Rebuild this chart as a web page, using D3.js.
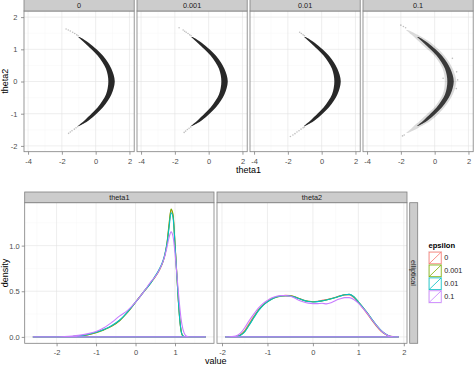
<!DOCTYPE html>
<html>
<head>
<meta charset="utf-8">
<script src="https://cdn.jsdelivr.net/npm/d3@7"></script>
<style>
body { margin: 0; background: #fff; }
svg text { font-family: "Liberation Sans", Arial, sans-serif; }
</style>
</head>
<body>
<svg id="chart" width="474" height="365"></svg>
<script>
// facets / groups
var epsilons = ["0", "0.001", "0.01", "0.1"];
var colours = ["#F8766D", "#7CAE00", "#00BFC4", "#C77CFF"];
var params = ["theta1", "theta2"];

// top row: scatter of theta1 vs theta2, axis limits as read
var topXLim = [-4.24, 2.28];
var topYLim = [-2.18, 2.19];
var topXTicks = [-4, -2, 0, 2];
var topYTicks = [-2, -1, 0, 1, 2];

// dense core of the cloud (theta1 edges at each theta2)
var bandTheta2 = [1.38, 1.3, 1.2, 1.0, 0.8, 0.6, 0.4, 0.2, 0, -0.2, -0.4, -0.6, -0.8, -1.0, -1.2, -1.3, -1.38];
var bandLo = [-1.04, -0.86, -0.645, -0.25, 0.125, 0.40, 0.61, 0.713, 0.75, 0.713, 0.61, 0.40, 0.125, -0.25, -0.645, -0.86, -1.04];
var bandHi = [-0.96, -0.68, -0.395, 0.05, 0.435, 0.72, 0.93, 1.067, 1.13, 1.067, 0.93, 0.72, 0.435, 0.05, -0.395, -0.68, -0.96];
// fuzzy spread of the epsilon = 0.1 run
var haloTheta2 = [1.6, 1.45, 1.3, 1.2, 1.0, 0.8, 0.6, 0.4, 0.2, 0, -0.2, -0.4, -0.6, -0.8, -1.0, -1.2, -1.3, -1.45, -1.6];
var haloLo = [-1.70, -1.36, -1.05, -0.84, -0.43, -0.02, 0.26, 0.47, 0.57, 0.60, 0.57, 0.47, 0.26, -0.02, -0.43, -0.84, -1.05, -1.36, -1.70];
var haloHi = [-1.58, -1.00, -0.49, -0.20, 0.23, 0.58, 0.86, 1.07, 1.21, 1.28, 1.21, 1.07, 0.86, 0.58, 0.23, -0.20, -0.49, -1.00, -1.58];
// sparse ends of each cloud [theta1, theta2]
var tailPoints = [
  [[-1.75, 1.63], [-1.62, 1.60], [-1.50, 1.57], [-1.36, 1.53], [-1.24, 1.49], [-1.12, 1.45], [-1.04, 1.42],
   [-1.60, -1.61], [-1.50, -1.57], [-1.40, -1.53], [-1.26, -1.48], [-1.16, -1.44], [-1.06, -1.40]],
  [[-1.75, 1.67], [-1.51, 1.60], [-1.42, 1.56], [-1.33, 1.53], [-1.22, 1.49], [-1.12, 1.45], [-1.04, 1.42],
   [-1.45, -1.58], [-1.36, -1.54], [-1.26, -1.49], [-1.16, -1.45], [-1.06, -1.41]],
  [[-1.30, 1.53], [-1.20, 1.49], [-1.10, 1.45], [-1.02, 1.42],
   [-1.85, -1.71], [-1.70, -1.66], [-1.58, -1.62], [-1.46, -1.57], [-1.34, -1.53], [-1.22, -1.48], [-1.10, -1.44], [-1.02, -1.41]],
  [[-2.00, 1.75], [-1.85, 1.71], [-1.72, 1.67],
   [-1.90, -1.69], [-1.80, -1.66],
   [1.36, 0.05], [1.30, 0.30], [1.28, -0.22], [0.50, 0.10], [1.05, 0.72]]
];

// bottom row: densities
var theta1Grid = [-2.59, -2.2, -1.8, -1.6, -1.4, -1.2, -1.0, -0.8, -0.6, -0.4, -0.2, 0, 0.2, 0.4, 0.5, 0.6, 0.7, 0.75, 0.8, 0.85, 0.9, 0.95, 1.0, 1.05, 1.1, 1.15, 1.2, 1.25, 1.3, 1.4, 1.77];
var theta1Dens = [
  [0, 0, 0.001, 0.004, 0.011, 0.025, 0.048, 0.08, 0.12, 0.18, 0.27, 0.38, 0.49, 0.6, 0.66, 0.73, 0.83, 0.91, 1.03, 1.22, 1.39, 1.33, 1.02, 0.66, 0.31, 0.08, 0.012, 0.001, 0, 0, 0],
  [0, 0, 0.001, 0.004, 0.010, 0.023, 0.045, 0.077, 0.118, 0.18, 0.27, 0.38, 0.49, 0.6, 0.66, 0.73, 0.83, 0.91, 1.04, 1.24, 1.40, 1.34, 1.02, 0.65, 0.30, 0.075, 0.01, 0.001, 0, 0, 0],
  [0, 0, 0.001, 0.005, 0.012, 0.027, 0.05, 0.082, 0.125, 0.185, 0.275, 0.38, 0.49, 0.6, 0.67, 0.74, 0.84, 0.92, 1.03, 1.2, 1.36, 1.31, 1.01, 0.65, 0.30, 0.08, 0.012, 0.001, 0, 0, 0],
  [0, 0.001, 0.004, 0.009, 0.02, 0.036, 0.06, 0.1, 0.16, 0.23, 0.29, 0.38, 0.49, 0.61, 0.66, 0.73, 0.83, 0.9, 0.99, 1.09, 1.15, 1.1, 0.92, 0.67, 0.42, 0.21, 0.085, 0.027, 0.006, 0, 0]
];
var theta2Grid = [-1.92, -1.8, -1.7, -1.6, -1.5, -1.4, -1.3, -1.2, -1.1, -1.0, -0.9, -0.8, -0.7, -0.6, -0.5, -0.4, -0.3, -0.2, -0.1, 0, 0.1, 0.2, 0.3, 0.4, 0.5, 0.6, 0.7, 0.8, 0.9, 1.0, 1.1, 1.2, 1.3, 1.4, 1.5, 1.6, 1.7, 1.88];
var theta2Dens = [
  [0, 0.001, 0.005, 0.022, 0.07, 0.15, 0.225, 0.295, 0.35, 0.39, 0.42, 0.44, 0.45, 0.455, 0.452, 0.44, 0.42, 0.402, 0.39, 0.385, 0.39, 0.4, 0.41, 0.42, 0.435, 0.45, 0.46, 0.46, 0.43, 0.375, 0.315, 0.25, 0.18, 0.115, 0.06, 0.025, 0.006, 0],
  [0, 0.001, 0.004, 0.018, 0.06, 0.135, 0.215, 0.29, 0.345, 0.385, 0.415, 0.435, 0.445, 0.45, 0.45, 0.44, 0.42, 0.4, 0.39, 0.385, 0.388, 0.395, 0.405, 0.418, 0.432, 0.448, 0.462, 0.468, 0.44, 0.385, 0.325, 0.26, 0.19, 0.125, 0.068, 0.03, 0.008, 0],
  [0, 0.001, 0.003, 0.016, 0.055, 0.13, 0.21, 0.285, 0.343, 0.385, 0.415, 0.437, 0.448, 0.452, 0.448, 0.436, 0.418, 0.4, 0.388, 0.383, 0.386, 0.395, 0.405, 0.418, 0.432, 0.448, 0.462, 0.466, 0.44, 0.385, 0.325, 0.262, 0.192, 0.127, 0.07, 0.031, 0.008, 0],
  [0, 0.003, 0.01, 0.038, 0.1, 0.18, 0.25, 0.315, 0.365, 0.4, 0.428, 0.445, 0.452, 0.452, 0.445, 0.425, 0.4, 0.382, 0.37, 0.365, 0.365, 0.368, 0.362, 0.375, 0.4, 0.418, 0.43, 0.43, 0.41, 0.37, 0.315, 0.255, 0.188, 0.125, 0.068, 0.03, 0.008, 0]
];
var densXTicks = [[-2, -1, 0, 1], [-2, -1, 0, 1, 2]];
var densYTicks = [0, 0.5, 1.0];

var svg = d3.select("#chart"),
    gridMajor = "#E3E3E3",
    gridMinor = "#F7F7F7",
    border = "#7F7F7F",
    stripFill = "#CCCCCC",
    tickText = "#4D4D4D";

function fmt(d) { return String(d); }

function minors(ticks, dom) { // midpoints between breaks, ggplot style
  var step = ticks[1] - ticks[0], out = [];
  for (var v = ticks[0] - step / 2; v <= dom[1]; v += step) if (v >= dom[0]) out.push(v);
  return out;
}

function panelBase(g, x, y, xt, yt, w, h) {
  g.append("rect").attr("width", w).attr("height", h).attr("fill", "#fff");
  var xd = x.domain(), yd = y.domain();
  g.selectAll(".vmin").data(minors(xt, xd)).enter().append("line")
    .attr("x1", x).attr("x2", x).attr("y1", 0).attr("y2", h).attr("stroke", gridMinor).attr("stroke-width", 0.5);
  g.selectAll(".hmin").data(minors(yt, yd)).enter().append("line")
    .attr("y1", y).attr("y2", y).attr("x1", 0).attr("x2", w).attr("stroke", gridMinor).attr("stroke-width", 0.5);
  g.selectAll(".vmaj").data(xt).enter().append("line")
    .attr("x1", x).attr("x2", x).attr("y1", 0).attr("y2", h).attr("stroke", gridMajor).attr("stroke-width", 0.6);
  g.selectAll(".hmaj").data(yt).enter().append("line")
    .attr("y1", y).attr("y2", y).attr("x1", 0).attr("x2", w).attr("stroke", gridMajor).attr("stroke-width", 0.6);
}

function panelBorder(g, w, h) {
  g.append("rect").attr("width", w).attr("height", h).attr("fill", "none")
    .attr("stroke", border).attr("stroke-width", 0.8);
}

function styleAxis(a) {
  a.select(".domain").remove();
  a.selectAll(".tick line").attr("stroke", border).attr("stroke-width", 0.8);
  a.selectAll(".tick text").attr("fill", tickText).attr("font-size", 7.5)
    .attr("font-family", "Liberation Sans, Arial, sans-serif");
}

function strip(g, x, y, w, h, label) {
  g.append("rect").attr("x", x).attr("y", y).attr("width", w).attr("height", h)
    .attr("fill", stripFill).attr("stroke", border).attr("stroke-width", 0.8);
  g.append("text").attr("x", x + w / 2).attr("y", y + h / 2).attr("dy", "0.35em")
    .attr("text-anchor", "middle").attr("font-size", 7.3).attr("fill", "#1A1A1A").text(label);
}

// ---------- top row ----------
var topLeft = 24, topW = 110.2, topStep = 113, topTop = 11, topH = 140.7;
var xs = d3.scaleLinear().domain(topXLim).range([0, topW]);
var ys = d3.scaleLinear().domain(topYLim).range([topH, 0]);

var bandArea = d3.area()
  .y(function (d, i) { return ys(bandTheta2[i]); })
  .x0(function (d, i) { return xs(bandLo[i]); })
  .x1(function (d, i) { return xs(bandHi[i]); })
  .curve(d3.curveCatmullRom);
var haloArea = d3.area()
  .y(function (d, i) { return ys(haloTheta2[i]); })
  .x0(function (d, i) { return xs(haloLo[i]); })
  .x1(function (d, i) { return xs(haloHi[i]); })
  .curve(d3.curveCatmullRom);

epsilons.forEach(function (eps, i) {
  var g = svg.append("g").attr("transform", "translate(" + (topLeft + i * topStep) + "," + topTop + ")");
  panelBase(g, xs, ys, topXTicks, topYTicks, topW, topH);

  if (i === 3) {
    g.append("path").attr("d", haloArea(haloTheta2)).attr("fill", "#000").attr("fill-opacity", 0.14);
  }
  g.append("path").attr("d", bandArea(bandTheta2)).attr("fill", "#111").attr("fill-opacity", i === 3 ? 0.8 : 0.9);
  g.selectAll(".tail").data(tailPoints[i]).enter().append("circle")
    .attr("cx", function (d) { return xs(d[0]); })
    .attr("cy", function (d) { return ys(d[1]); })
    .attr("r", 0.8).attr("fill", "#000").attr("fill-opacity", 0.25);

  panelBorder(g, topW, topH);
  strip(g, 0, -topTop - 1, topW, topTop + 1, eps);

  var ax = g.append("g").attr("transform", "translate(0," + topH + ")")
    .call(d3.axisBottom(xs).tickValues(topXTicks).tickSize(3).tickPadding(3.5).tickFormat(fmt));
  styleAxis(ax);
  if (i === 0) {
    var ay = g.append("g")
      .call(d3.axisLeft(ys).tickValues(topYTicks).tickSize(3).tickPadding(3.5).tickFormat(fmt));
    styleAxis(ay);
  }
});

svg.append("text").attr("x", topLeft + (3 * topStep + topW) / 2).attr("y", 173.3)
  .attr("text-anchor", "middle").attr("font-size", 9).text("theta1");
svg.append("text").attr("transform", "translate(8," + (topTop + topH / 2) + ") rotate(-90)")
  .attr("text-anchor", "middle").attr("font-size", 9).text("theta2");

// ---------- bottom row ----------
var botLefts = [24.7, 217], botW = [189.3, 190], botTop = 202.7, botH = 140.6;
var grids = [theta1Grid, theta2Grid], dens = [theta1Dens, theta2Dens];

var dMax = d3.max(dens, function (p) { return d3.max(p, function (s) { return d3.max(s); }); });
var yd = d3.scaleLinear().domain([-0.05 * dMax, dMax * 1.05]).range([botH, 0]);

params.forEach(function (p, k) {
  var ext = d3.extent(grids[k]), pad = 0.05 * (ext[1] - ext[0]);
  var xd = d3.scaleLinear().domain([ext[0] - pad, ext[1] + pad]).range([0, botW[k]]);
  var g = svg.append("g").attr("transform", "translate(" + botLefts[k] + "," + botTop + ")");
  panelBase(g, xd, yd, densXTicks[k], densYTicks, botW[k], botH);

  var area = d3.area()
    .x(function (d, i) { return xd(grids[k][i]); })
    .y0(yd(0))
    .y1(function (d) { return yd(d); })
    .curve(d3.curveMonotoneX);
  dens[k].forEach(function (series, s) {
    g.append("path").attr("d", area(series)).attr("fill", "none")
      .attr("stroke", colours[s]).attr("stroke-width", 1.1).attr("stroke-linejoin", "round");
  });

  panelBorder(g, botW[k], botH);
  strip(g, 0, -10.7, botW[k], 10.7, p);

  var ax = g.append("g").attr("transform", "translate(0," + botH + ")")
    .call(d3.axisBottom(xd).tickValues(densXTicks[k]).tickSize(3).tickPadding(3).tickFormat(fmt));
  styleAxis(ax);
  if (k === 0) {
    var ay = g.append("g")
      .call(d3.axisLeft(yd).tickValues(densYTicks).tickSize(3).tickPadding(2).tickFormat(d3.format(".1f")));
    styleAxis(ay);
  }
});

// row strip on the right
var rs = svg.append("g");
rs.append("rect").attr("x", 409.7).attr("y", botTop).attr("width", 8).attr("height", botH)
  .attr("fill", stripFill).attr("stroke", border).attr("stroke-width", 0.8);
rs.append("text").attr("transform", "translate(413.7," + (botTop + botH / 2) + ") rotate(90)")
  .attr("dy", "0.35em").attr("text-anchor", "middle").attr("font-size", 7.3).attr("fill", "#1A1A1A").text("elliptical");

svg.append("text").attr("x", (24.7 + 407) / 2).attr("y", 363.5)
  .attr("text-anchor", "middle").attr("font-size", 9).text("value");
svg.append("text").attr("transform", "translate(7.5," + (botTop + botH / 2) + ") rotate(-90)")
  .attr("text-anchor", "middle").attr("font-size", 9).text("density");

// legend
var lg = svg.append("g").attr("transform", "translate(428.5,248)");
lg.append("text").attr("font-size", 7.6).attr("font-weight", "bold").text("epsilon");
var keyH = 12.9, keyW = 13.3;
epsilons.forEach(function (eps, i) {
  var ky = 3.5 + i * keyH;
  lg.append("rect").attr("x", 0).attr("y", ky).attr("width", keyW).attr("height", keyH)
    .attr("fill", "#fff").attr("stroke", "#E6E6E6").attr("stroke-width", 0.5);
  lg.append("rect").attr("x", 0.6).attr("y", ky + 0.6).attr("width", keyW - 1.2).attr("height", keyH - 1.2)
    .attr("fill", "none").attr("stroke", colours[i]).attr("stroke-width", 0.8);
  lg.append("line").attr("x1", 0.6).attr("y1", ky + keyH - 0.6).attr("x2", keyW - 0.6).attr("y2", ky + 0.6)
    .attr("stroke", colours[i]).attr("stroke-width", 0.8);
  lg.append("text").attr("x", keyW + 2.5).attr("y", ky + keyH / 2).attr("dy", "0.35em")
    .attr("font-size", 7.2).attr("fill", "#1A1A1A").text(eps);
});
</script>
</body>
</html>
